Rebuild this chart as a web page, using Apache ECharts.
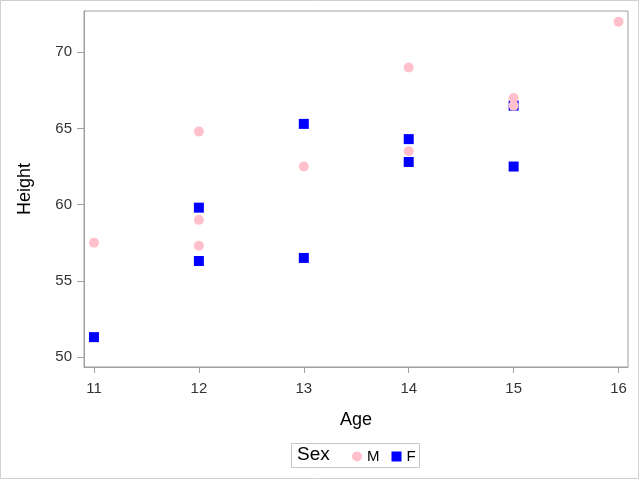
<!DOCTYPE html>
<html>
<head>
<meta charset="utf-8">
<script src="https://cdn.jsdelivr.net/npm/echarts@6/dist/echarts.min.js"></script>
<style>html,body{margin:0;padding:0;background:#fff;}#c{width:640px;height:480px;}</style>
</head>
<body>
<div id="c"></div>
<script>
const ageM = [14, 12, 13, 12, 16, 12, 15, 11, 15, 14];
const heightM = [69.0, 57.3, 62.5, 59.0, 72.0, 64.8, 67.0, 57.5, 66.5, 63.5];
const ageF = [13, 13, 14, 12, 15, 11, 14, 12, 15];
const heightF = [56.5, 65.3, 62.8, 59.8, 62.5, 51.3, 64.3, 56.3, 66.5];
const xTicks = [11, 12, 13, 14, 15, 16];
const yTicks = [50, 55, 60, 65, 70];

const font = 'Liberation Sans, Arial, sans-serif';
const chart = echarts.init(document.getElementById('c'), null, {renderer: 'canvas'});
chart.setOption({
  animation: false,
  backgroundColor: '#fff',
  grid: {left: 84, right: 12, top: 11, bottom: 113, show: true, borderColor: '#a0a0a0', borderWidth: 1, containLabel: false},
  xAxis: {
    type: 'value', min: 10.905, max: 16.09,
    name: 'Age', nameLocation: 'middle', nameGap: 44,
    nameTextStyle: {fontFamily: font, fontSize: 18, color: '#000'},
    axisLine: {show: true, onZero: false, lineStyle: {color: '#a0a0a0'}},
    axisTick: {show: true, length: 6, customValues: xTicks, lineStyle: {color: '#a0a0a0'}},
    axisLabel: {customValues: xTicks, margin: 14, fontFamily: font, fontSize: 15, color: '#333'},
    splitLine: {show: false}
  },
  yAxis: {
    type: 'value', min: 49.34, max: 72.71,
    name: 'Height', nameLocation: 'middle', nameGap: 50, nameRotate: 90,
    nameTextStyle: {fontFamily: font, fontSize: 18, color: '#000'},
    axisLine: {show: true, onZero: false, lineStyle: {color: '#a0a0a0'}},
    axisTick: {show: true, length: 7, customValues: yTicks, lineStyle: {color: '#a0a0a0'}},
    axisLabel: {customValues: yTicks, margin: 12, fontFamily: font, fontSize: 15, color: '#333'},
    splitLine: {show: false}
  },
  legend: {
    data: [{name: 'M', icon: 'circle'}, {name: 'F', icon: 'rect'}],
    left: 347, top: 444, itemWidth: 10, itemHeight: 10, itemGap: 12,
    textStyle: {fontFamily: font, fontSize: 15, color: '#000'}
  },
  graphic: [
    {type: 'rect', shape: {x: 0.5, y: 0.5, width: 638, height: 478}, style: {fill: 'none', stroke: '#d0d0d0', lineWidth: 1}, silent: true},
    {type: 'rect', shape: {x: 291.5, y: 443.5, width: 128, height: 24}, style: {fill: 'none', stroke: '#c8c8c8', lineWidth: 1}, silent: true},
    {type: 'text', left: 297, top: 445, style: {text: 'Sex', fontFamily: font, fontSize: 19, fill: '#000'}, silent: true}
  ],
  series: [
    {name: 'F', type: 'scatter', symbol: 'rect', symbolSize: 10, itemStyle: {color: '#0000ff', opacity: 1},
     data: ageF.map((a, i) => [a, heightF[i]]), z: 2},
    {name: 'M', type: 'scatter', symbol: 'circle', symbolSize: 10, itemStyle: {color: '#ffc0cb', opacity: 1},
     data: ageM.map((a, i) => [a, heightM[i]]), z: 3}
  ]
});
</script>
</body>
</html>
